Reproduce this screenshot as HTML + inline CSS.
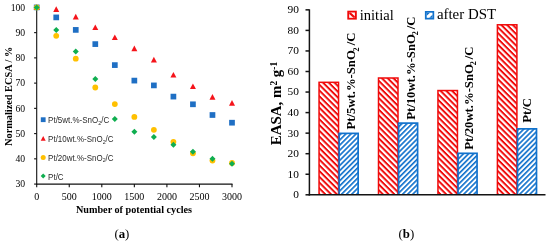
<!DOCTYPE html><html><head><meta charset="utf-8"><title>Figure</title><style>html,body{margin:0;padding:0;background:#fff}svg{display:block}text{font-family:"Liberation Serif",serif;fill:#000}.s{font-family:"Liberation Sans",sans-serif;fill:#2b2b2b}.b{font-weight:bold}</style></head><body>
<svg width="550" height="244" viewBox="0 0 550 244">
<defs>
<pattern id="hr" width="4.07" height="4.07" patternUnits="userSpaceOnUse" patternTransform="rotate(45)"><rect width="4.07" height="4.07" fill="#fff"/><rect width="4.07" height="1.95" fill="#f00a0a"/></pattern>
<pattern id="hb" width="3.6" height="3.6" patternUnits="userSpaceOnUse" patternTransform="rotate(-45)"><rect width="3.6" height="3.6" fill="#fff"/><rect width="3.6" height="1.65" fill="#1272cc"/></pattern><clipPath id="cb"><rect x="300" y="0" width="250" height="194.8"/></clipPath>
</defs>
<rect width="550" height="244" fill="#fff"/>
<g stroke="#111" stroke-width="1.1" fill="none">
<path d="M36.7 7.1000000000000005V184.58"/>
<path d="M36.2 184.08H232.5"/>
<path d="M34.1 184.08H36.7"/>
<path d="M34.1 158.84H36.7"/>
<path d="M34.1 133.60H36.7"/>
<path d="M34.1 108.36H36.7"/>
<path d="M34.1 83.12H36.7"/>
<path d="M34.1 57.88H36.7"/>
<path d="M34.1 32.64H36.7"/>
<path d="M34.1 7.40H36.7"/>
<path d="M36.70 184.08V187.18"/>
<path d="M69.25 184.08V187.18"/>
<path d="M101.80 184.08V187.18"/>
<path d="M134.35 184.08V187.18"/>
<path d="M166.90 184.08V187.18"/>
<path d="M199.45 184.08V187.18"/>
<path d="M232.00 184.08V187.18"/>
</g>
<text x="25.2" y="187.28" font-size="9.7" text-anchor="end">30</text>
<text x="25.2" y="162.04" font-size="9.7" text-anchor="end">40</text>
<text x="25.2" y="136.80" font-size="9.7" text-anchor="end">50</text>
<text x="25.2" y="111.56" font-size="9.7" text-anchor="end">60</text>
<text x="25.2" y="86.32" font-size="9.7" text-anchor="end">70</text>
<text x="25.2" y="61.08" font-size="9.7" text-anchor="end">80</text>
<text x="25.2" y="35.84" font-size="9.7" text-anchor="end">90</text>
<text x="25.2" y="10.60" font-size="9.7" text-anchor="end">100</text>
<text x="36.70" y="199.6" font-size="10" text-anchor="middle">0</text>
<text x="69.25" y="199.6" font-size="10" text-anchor="middle">500</text>
<text x="101.80" y="199.6" font-size="10" text-anchor="middle">1000</text>
<text x="134.35" y="199.6" font-size="10" text-anchor="middle">1500</text>
<text x="166.90" y="199.6" font-size="10" text-anchor="middle">2000</text>
<text x="199.45" y="199.6" font-size="10" text-anchor="middle">2500</text>
<text x="232.00" y="199.6" font-size="10" text-anchor="middle">3000</text>
<text x="134" y="213.3" font-size="10.2" class="b" text-anchor="middle">Number of potential cycles</text>
<text transform="translate(11.5 96.3) rotate(-90)" font-size="10.3" class="b" text-anchor="middle">Normalized ECSA / %</text>
<text x="121.9" y="237.8" font-size="12.8" text-anchor="middle">(<tspan class="b">a</tspan>)</text>
<rect x="33.85" y="4.55" width="5.7" height="5.7" fill="#1f6fc4"/>
<rect x="53.38" y="14.55" width="5.7" height="5.7" fill="#1f6fc4"/>
<rect x="72.91" y="27.05" width="5.7" height="5.7" fill="#1f6fc4"/>
<rect x="92.44" y="41.25" width="5.7" height="5.7" fill="#1f6fc4"/>
<rect x="111.97" y="62.25" width="5.7" height="5.7" fill="#1f6fc4"/>
<rect x="131.50" y="77.75" width="5.7" height="5.7" fill="#1f6fc4"/>
<rect x="151.03" y="82.55" width="5.7" height="5.7" fill="#1f6fc4"/>
<rect x="170.56" y="93.75" width="5.7" height="5.7" fill="#1f6fc4"/>
<rect x="190.09" y="101.45" width="5.7" height="5.7" fill="#1f6fc4"/>
<rect x="209.62" y="112.15" width="5.7" height="5.7" fill="#1f6fc4"/>
<rect x="229.15" y="119.85" width="5.7" height="5.7" fill="#1f6fc4"/>
<path d="M36.70 4.40L39.70 10.10H33.70Z" fill="#f5141b"/>
<path d="M56.23 6.20L59.23 11.90H53.23Z" fill="#f5141b"/>
<path d="M75.76 13.70L78.76 19.40H72.76Z" fill="#f5141b"/>
<path d="M95.29 24.40L98.29 30.10H92.29Z" fill="#f5141b"/>
<path d="M114.82 34.40L117.82 40.10H111.82Z" fill="#f5141b"/>
<path d="M134.35 45.60L137.35 51.30H131.35Z" fill="#f5141b"/>
<path d="M153.88 56.80L156.88 62.50H150.88Z" fill="#f5141b"/>
<path d="M173.41 71.90L176.41 77.60H170.41Z" fill="#f5141b"/>
<path d="M192.94 83.40L195.94 89.10H189.94Z" fill="#f5141b"/>
<path d="M212.47 94.10L215.47 99.80H209.47Z" fill="#f5141b"/>
<path d="M232.00 100.10L235.00 105.80H229.00Z" fill="#f5141b"/>
<circle cx="36.70" cy="7.40" r="2.9" fill="#ffc000"/>
<circle cx="56.23" cy="35.80" r="2.9" fill="#ffc000"/>
<circle cx="75.76" cy="58.70" r="2.9" fill="#ffc000"/>
<circle cx="95.29" cy="87.50" r="2.9" fill="#ffc000"/>
<circle cx="114.82" cy="104.10" r="2.9" fill="#ffc000"/>
<circle cx="134.35" cy="116.90" r="2.9" fill="#ffc000"/>
<circle cx="153.88" cy="129.80" r="2.9" fill="#ffc000"/>
<circle cx="173.41" cy="141.80" r="2.9" fill="#ffc000"/>
<circle cx="192.94" cy="153.30" r="2.9" fill="#ffc000"/>
<circle cx="212.47" cy="160.60" r="2.9" fill="#ffc000"/>
<circle cx="232.00" cy="162.90" r="2.9" fill="#ffc000"/>
<path d="M36.70 4.40L39.70 7.40L36.70 10.40L33.70 7.40Z" fill="#0fae50"/>
<path d="M56.23 27.10L59.23 30.10L56.23 33.10L53.23 30.10Z" fill="#0fae50"/>
<path d="M75.76 48.60L78.76 51.60L75.76 54.60L72.76 51.60Z" fill="#0fae50"/>
<path d="M95.29 75.90L98.29 78.90L95.29 81.90L92.29 78.90Z" fill="#0fae50"/>
<path d="M114.82 115.90L117.82 118.90L114.82 121.90L111.82 118.90Z" fill="#0fae50"/>
<path d="M134.35 128.70L137.35 131.70L134.35 134.70L131.35 131.70Z" fill="#0fae50"/>
<path d="M153.88 134.00L156.88 137.00L153.88 140.00L150.88 137.00Z" fill="#0fae50"/>
<path d="M173.41 141.80L176.41 144.80L173.41 147.80L170.41 144.80Z" fill="#0fae50"/>
<path d="M192.94 148.80L195.94 151.80L192.94 154.80L189.94 151.80Z" fill="#0fae50"/>
<path d="M212.47 155.80L215.47 158.80L212.47 161.80L209.47 158.80Z" fill="#0fae50"/>
<path d="M232.00 160.80L235.00 163.80L232.00 166.80L229.00 163.80Z" fill="#0fae50"/>
<rect x="40.80" y="117.30" width="4.8" height="4.8" fill="#1f6fc4"/>
<path d="M43.20 136.10L45.70 140.80H40.70Z" fill="#f5141b"/>
<circle cx="43.20" cy="157.50" r="2.5" fill="#ffc000"/>
<path d="M43.20 173.40L45.70 175.90L43.20 178.40L40.70 175.90Z" fill="#0fae50"/>
<text class="s" transform="translate(48.1 122.9) scale(0.887 1)" font-size="9">Pt/5wt.%-SnO<tspan font-size="6" dy="1.7">2</tspan><tspan dy="-1.7">/C</tspan></text>
<text class="s" transform="translate(48.1 141.9) scale(0.887 1)" font-size="9">Pt/10wt.%-SnO<tspan font-size="6" dy="1.7">2</tspan><tspan dy="-1.7">/C</tspan></text>
<text class="s" transform="translate(48.1 160.5) scale(0.887 1)" font-size="9">Pt/20wt.%-SnO<tspan font-size="6" dy="1.7">2</tspan><tspan dy="-1.7">/C</tspan></text>
<text class="s" transform="translate(48.1 179.5) scale(0.887 1)" font-size="9">Pt/C</text>
<g clip-path="url(#cb)">
<rect x="319.05" y="82.32" width="19.50" height="116.23" fill="url(#hr)" stroke="#f00a0a" stroke-width="1.5"/>
<rect x="339.15" y="133.38" width="19.00" height="65.27" fill="url(#hb)" stroke="#1272cc" stroke-width="1.7"/>
<rect x="378.50" y="78.00" width="19.50" height="120.55" fill="url(#hr)" stroke="#f00a0a" stroke-width="1.5"/>
<rect x="398.60" y="123.11" width="19.00" height="75.54" fill="url(#hb)" stroke="#1272cc" stroke-width="1.7"/>
<rect x="437.95" y="90.54" width="19.50" height="108.01" fill="url(#hr)" stroke="#f00a0a" stroke-width="1.5"/>
<rect x="458.05" y="153.32" width="19.00" height="45.33" fill="url(#hb)" stroke="#1272cc" stroke-width="1.7"/>
<rect x="497.40" y="24.78" width="19.50" height="173.77" fill="url(#hr)" stroke="#f00a0a" stroke-width="1.5"/>
<rect x="517.50" y="128.86" width="19.00" height="69.79" fill="url(#hb)" stroke="#1272cc" stroke-width="1.7"/>
</g>
<text transform="translate(355.1 129.5) rotate(-90)" font-size="12.7" class="b">Pt/5wt.%-SnO<tspan font-size="8" dy="3.5" dx="-1.2">2</tspan><tspan dy="-3.5" dx="2.1">/C</tspan></text>
<text transform="translate(414.9 119.8) rotate(-90)" font-size="12.7" class="b">Pt/10wt.%-SnO<tspan font-size="8" dy="3.5" dx="-1.2">2</tspan><tspan dy="-3.5" dx="2.1">/C</tspan></text>
<text transform="translate(472.8 149.8) rotate(-90)" font-size="12.7" class="b">Pt/20wt.%-SnO<tspan font-size="8" dy="3.5" dx="-1.2">2</tspan><tspan dy="-3.5" dx="2.1">/C</tspan></text>
<text transform="translate(531.4 122.7) rotate(-90)" font-size="12.7" class="b">Pt/C</text>
<g stroke="#141414" stroke-width="1.5" fill="none">
<path d="M309.4 9.349999999999994V195.55"/>
<path d="M308.7 194.8H545.5"/>
<path d="M305.5 194.80H309.4"/>
<path d="M305.5 174.25H309.4"/>
<path d="M305.5 153.70H309.4"/>
<path d="M305.5 133.15H309.4"/>
<path d="M305.5 112.60H309.4"/>
<path d="M305.5 92.05H309.4"/>
<path d="M305.5 71.50H309.4"/>
<path d="M305.5 50.95H309.4"/>
<path d="M305.5 30.40H309.4"/>
<path d="M305.5 9.85H309.4"/>
</g>
<text x="298.9" y="198.20" font-size="11.4" text-anchor="end">0</text>
<text x="298.9" y="177.65" font-size="11.4" text-anchor="end">10</text>
<text x="298.9" y="157.10" font-size="11.4" text-anchor="end">20</text>
<text x="298.9" y="136.55" font-size="11.4" text-anchor="end">30</text>
<text x="298.9" y="116.00" font-size="11.4" text-anchor="end">40</text>
<text x="298.9" y="95.45" font-size="11.4" text-anchor="end">50</text>
<text x="298.9" y="74.90" font-size="11.4" text-anchor="end">60</text>
<text x="298.9" y="54.35" font-size="11.4" text-anchor="end">70</text>
<text x="298.9" y="33.80" font-size="11.4" text-anchor="end">80</text>
<text x="298.9" y="13.25" font-size="11.4" text-anchor="end">90</text>
<text transform="translate(281 103.5) rotate(-90)" font-size="14.9" class="b" text-anchor="middle">EASA, m<tspan font-size="9.4" dy="-4.4">2</tspan><tspan dy="4.4"> g</tspan><tspan font-size="9.4" dy="-4.4">-1</tspan></text>
<text x="406.4" y="238" font-size="12.8" text-anchor="middle">(<tspan class="b">b</tspan>)</text>
<rect x="347.3" y="10.7" width="9.5" height="8.9" fill="#f00a0a"/><rect x="349.2" y="12.5" width="5.7" height="5.3" fill="#fff"/><path d="M349.2 12.5h1.6l4.1 3.7v1.6h-1.6l-4.1-3.7z" fill="#f00a0a"/>
<text x="359.7" y="19.5" font-size="14.6">initial</text>
<rect x="424.9" y="11" width="9.3" height="8.5" fill="#1272cc"/><rect x="426.7" y="12.7" width="5.8" height="5.1" fill="#fff"/><path d="M426.7 12.7h3.3l-3.3 3z M432.5 17.8h-3.3l3.3-3z" fill="#1272cc"/>
<text x="436.9" y="19.4" font-size="14.9">after DST</text>
</svg></body></html>
